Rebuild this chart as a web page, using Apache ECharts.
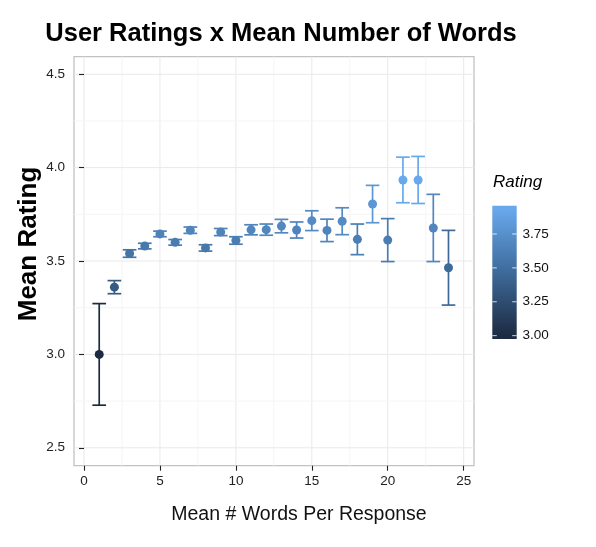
<!DOCTYPE html>
<html><head><meta charset="utf-8">
<script src="https://cdn.jsdelivr.net/npm/echarts@6/dist/echarts.min.js"></script>
<style>html,body{margin:0;padding:0;background:#fff}#c{width:596px;height:547px}</style>
</head><body><div id="c"></div><script>
// ---- data ----
const words = [1,2,3,4,5,6,7,8,9,10,11,12,13,14,15,16,17,18,19,20,21,22,23,24];
const meanRating = [3.00,3.36,3.54,3.58,3.645,3.60,3.665,3.57,3.655,3.61,3.667,3.668,3.687,3.666,3.716,3.664,3.713,3.616,3.805,3.612,3.934,3.934,3.677,3.464];
const errHalf = [0.272,0.035,0.02,0.015,0.015,0.015,0.017,0.017,0.019,0.02,0.027,0.03,0.036,0.043,0.053,0.06,0.072,0.082,0.10,0.115,0.122,0.126,0.18,0.20];
const xTicks = [0,5,10,15,20,25];
const yTicks = [2.5,3.0,3.5,4.0,4.5];
const legendTicks = [3.00,3.25,3.50,3.75];

const titleText = 'User Ratings x Mean Number of Words';
const xTitle = 'Mean # Words Per Response';
const yTitle = 'Mean Rating';
const legendTitle = 'Rating';

// ---- styles ----
const FONT = '"Liberation Sans", Arial, Helvetica, sans-serif';
const LOW = '#1C2B42', MID = '#3E6A9A', HIGH = '#68A8EC';
const X_MIN = -0.66, X_MAX = 25.68, Y_MIN = 2.404, Y_MAX = 4.594;
const CAP = 0.45;

const cMin = Math.min(...meanRating), cMax = Math.max(...meanRating);

function mids(arr){ const o=[]; for(let i=0;i<arr.length-1;i++) o.push((arr[i]+arr[i+1])/2); return o; }
const gridData = [];
xTicks.forEach(v=>gridData.push([v,0,1]));
mids(xTicks).forEach(v=>gridData.push([v,0,0]));
yTicks.forEach(v=>gridData.push([v,1,1]));
mids(yTicks).forEach(v=>gridData.push([v,1,0]));

const errData = words.map((w,i)=>[w, meanRating[i], meanRating[i]-errHalf[i], meanRating[i]+errHalf[i]]);
const ptData = words.map((w,i)=>[w, meanRating[i]]);

// legend colour bar geometry
const BAR = {x:492.3, y:205.7, w:24.4, h:133.3};
const pad = (cMax - cMin) / 38;
const vLo = cMin - pad, vHi = cMax + pad;
const vy = v => BAR.y + BAR.h - (v - vLo) / (vHi - vLo) * BAR.h;
const off = v => (v - vLo) / (vHi - vLo);

const chart = echarts.init(document.getElementById('c'), null, {renderer:'canvas'});

const legendEls = [
  {type:'rect', shape:{x:BAR.x, y:BAR.y, width:BAR.w, height:BAR.h}, silent:true,
   style:{fill:new echarts.graphic.LinearGradient(0,1,0,0,[
     {offset:0,color:LOW},{offset:off(cMin),color:LOW},
     {offset:off((cMin+cMax)/2),color:MID},
     {offset:off(cMax),color:HIGH},{offset:1,color:HIGH}])}},
  {type:'text', x:493, y:182, silent:true,
   style:{text:legendTitle, font:'italic 17px '+FONT, fill:'#000', align:'left', verticalAlign:'middle', textAlign:'left', textVerticalAlign:'middle'}}
];
legendTicks.forEach(v=>{
  const y = vy(v);
  legendEls.push({type:'line', silent:true, shape:{x1:BAR.x, y1:y, x2:BAR.x+4.5, y2:y}, style:{stroke:'rgba(255,255,255,0.8)', lineWidth:1}});
  legendEls.push({type:'line', silent:true, shape:{x1:BAR.x+BAR.w-4.5, y1:y, x2:BAR.x+BAR.w, y2:y}, style:{stroke:'rgba(255,255,255,0.8)', lineWidth:1}});
  legendEls.push({type:'text', silent:true, x:522.5, y:y,
    style:{text:v.toFixed(2), font:'13.5px '+FONT, fill:'#111', align:'left', verticalAlign:'middle', textAlign:'left', textVerticalAlign:'middle'}});
});

const option = {
  backgroundColor:'#fff',
  animation:false,
  textStyle:{fontFamily:FONT},
  grid:{left:74, top:56.7, width:400, height:409, show:true, borderColor:'#c2c2c2', borderWidth:1.3, backgroundColor:'transparent'},
  xAxis:{type:'value', min:X_MIN, max:X_MAX,
    axisLine:{show:false},
    axisTick:{show:true, customValues:xTicks, length:5, lineStyle:{color:'#222', width:1.1}},
    axisLabel:{customValues:xTicks, margin:9, fontSize:13.5, color:'#222', fontFamily:FONT, formatter:v=>String(v)},
    splitLine:{show:false}, minorSplitLine:{show:false}},
  yAxis:{type:'value', min:Y_MIN, max:Y_MAX,
    axisLine:{show:false},
    axisTick:{show:true, customValues:yTicks, length:5, lineStyle:{color:'#222', width:1.1}},
    axisLabel:{customValues:yTicks, margin:9, fontSize:13.5, color:'#222', fontFamily:FONT, formatter:v=>v.toFixed(1)},
    splitLine:{show:false}, minorSplitLine:{show:false}},
  visualMap:{show:false, type:'continuous', min:cMin, max:cMax, dimension:1, seriesIndex:[1,2],
    inRange:{color:[LOW, MID, HIGH]}},
  graphic:[
    {type:'text', x:281, y:34, silent:true,
     style:{text:titleText, font:'bold 25.5px '+FONT, fill:'#000', align:'center', verticalAlign:'middle', textAlign:'center', textVerticalAlign:'middle'}},
    {type:'text', x:299, y:515, silent:true,
     style:{text:xTitle, font:'19.5px '+FONT, fill:'#111', align:'center', verticalAlign:'middle', textAlign:'center', textVerticalAlign:'middle'}},
    {type:'text', x:29, y:244, rotation:Math.PI/2, silent:true,
     style:{text:yTitle, font:'bold 26px '+FONT, fill:'#000', align:'center', verticalAlign:'middle', textAlign:'center', textVerticalAlign:'middle'}},
    ...legendEls
  ],
  series:[
    {type:'custom', name:'grid', z:0, silent:true, data:gridData, encode:{x:0, y:1},
     renderItem:function(params, api){
       const cs = params.coordSys;
       const v = api.value(0), ax = api.value(1), major = api.value(2);
       let shape;
       if (ax === 0){ const p = api.coord([v, Y_MIN]); shape = {x1:p[0], y1:cs.y, x2:p[0], y2:cs.y+cs.height}; }
       else { const p = api.coord([X_MIN, v]); shape = {x1:cs.x, y1:p[1], x2:cs.x+cs.width, y2:p[1]}; }
       return {type:'line', shape:shape, style:{stroke: major ? '#e9e9e9' : '#f4f4f4', lineWidth: major ? 1 : 0.9}};
     }},
    {type:'custom', name:'err', z:3, silent:true, data:errData, encode:{x:0, y:[1,2,3]},
     renderItem:function(params, api){
       const x = api.value(0), lo = api.value(2), hi = api.value(3);
       const pLo = api.coord([x, lo]), pHi = api.coord([x, hi]);
       const l = api.coord([x-CAP, lo])[0], r = api.coord([x+CAP, lo])[0];
       const col = api.visual('color');
       const st = {stroke:col, lineWidth:1.7};
       return {type:'group', children:[
         {type:'line', shape:{x1:pLo[0], y1:pLo[1], x2:pHi[0], y2:pHi[1]}, style:st},
         {type:'line', shape:{x1:l, y1:pLo[1], x2:r, y2:pLo[1]}, style:st},
         {type:'line', shape:{x1:l, y1:pHi[1], x2:r, y2:pHi[1]}, style:st}
       ]};
     }},
    {type:'scatter', name:'mean', z:4, silent:true, data:ptData, symbol:'circle', symbolSize:9,
     itemStyle:{opacity:1}}
  ]
};
chart.setOption(option);
</script></body></html>
